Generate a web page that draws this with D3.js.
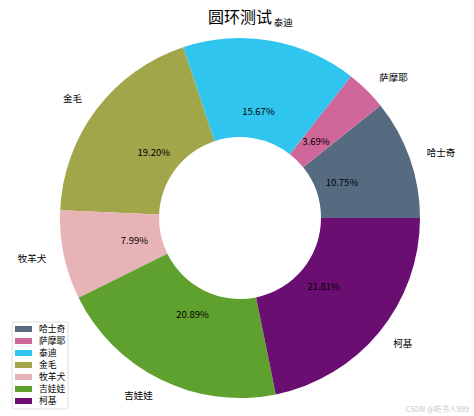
<!DOCTYPE html>
<html>
<head>
<meta charset="utf-8">
<script src="https://cdn.jsdelivr.net/npm/d3@7"></script>
<style>
  body { margin: 0; background: #fff; }
  svg { display: block; }
</style>
</head>
<body>
<div id="container"></div>
<script>
// données du graphique
const categories = ["哈士奇", "萨摩耶", "泰迪", "金毛", "牧羊犬", "吉娃娃", "柯基"];
const values = [10.75, 3.69, 15.67, 19.20, 7.99, 20.89, 21.81];
const colors = ["#566b80", "#d0679a", "#30c5ee", "#a2a64a", "#e8b3b7", "#5fa12e", "#6a0e72"];

const width = 474, height = 416,
  cx = 240, cy = 218,
  outerR = 180, innerR = 81,
  fontPolice = "'Noto Sans CJK SC', 'DejaVu Sans', sans-serif";

const svg = d3.select("#container").append("svg")
  .attr("width", width)
  .attr("height", height);

// titre
svg.append("text")
  .attr("x", cx)
  .attr("y", 23)
  .attr("text-anchor", "middle")
  .style("font-family", fontPolice)
  .style("font-size", "16px")
  .style("font-weight", "normal")
  .text("圆环测试");

// départ à 3h, sens anti-horaire (comme matplotlib)
const pie = d3.pie()
  .sort(null)
  .value(d => d)
  .startAngle(Math.PI / 2)
  .endAngle(Math.PI / 2 - 2 * Math.PI);

const arcs = pie(values);
const arc = d3.arc().innerRadius(innerR).outerRadius(outerR);

const g = svg.append("g").attr("transform", "translate(" + cx + "," + cy + ")");

g.selectAll("path")
  .data(arcs)
  .enter().append("path")
    .attr("d", arc)
    .attr("fill", (d, i) => colors[i]);

function mid(d) { return (d.startAngle + d.endAngle) / 2; }

// étiquettes des catégories
g.selectAll("text.label")
  .data(arcs)
  .enter().append("text")
    .attr("class", "label")
    .attr("x", d => Math.sin(mid(d)) * outerR * 1.1)
    .attr("y", d => -Math.cos(mid(d)) * outerR * 1.1)
    .attr("dy", "0.35em")
    .attr("text-anchor", d => Math.sin(mid(d)) > 0 ? "start" : "end")
    .style("font-family", fontPolice)
    .style("font-size", "9.5px")
    .text((d, i) => categories[i]);

// pourcentages
g.selectAll("text.pct")
  .data(arcs)
  .enter().append("text")
    .attr("class", "pct")
    .attr("x", d => Math.sin(mid(d)) * outerR * 0.6)
    .attr("y", d => -Math.cos(mid(d)) * outerR * 0.6)
    .attr("dy", "0.35em")
    .attr("text-anchor", "middle")
    .style("font-family", fontPolice)
    .style("font-size", "9.5px")
    .text(d => d.data.toFixed(2) + "%");

// légende
const legend = svg.append("g").attr("transform", "translate(12,322)");
legend.append("rect")
  .attr("width", 56).attr("height", 87)
  .attr("rx", 2)
  .attr("fill", "#fff")
  .attr("stroke", "#d5d5d5")
  .attr("stroke-width", 0.8);

const row = legend.selectAll("g.item")
  .data(categories)
  .enter().append("g")
    .attr("class", "item")
    .attr("transform", (d, i) => "translate(3," + (4 + i * 12) + ")");

row.append("rect")
  .attr("width", 17).attr("height", 6)
  .attr("fill", (d, i) => colors[i]);

row.append("text")
  .attr("x", 24)
  .attr("y", 3)
  .attr("dy", "0.35em")
  .style("font-family", fontPolice)
  .style("font-size", "8.8px")
  .text(d => d);

// filigrane
svg.append("text")
  .attr("x", 469)
  .attr("y", 412)
  .attr("text-anchor", "end")
  .style("font-family", fontPolice)
  .style("font-size", "7.5px")
  .style("fill", "#c8c8c8")
  .text("CSDN @听书人999");
</script>
</body>
</html>
